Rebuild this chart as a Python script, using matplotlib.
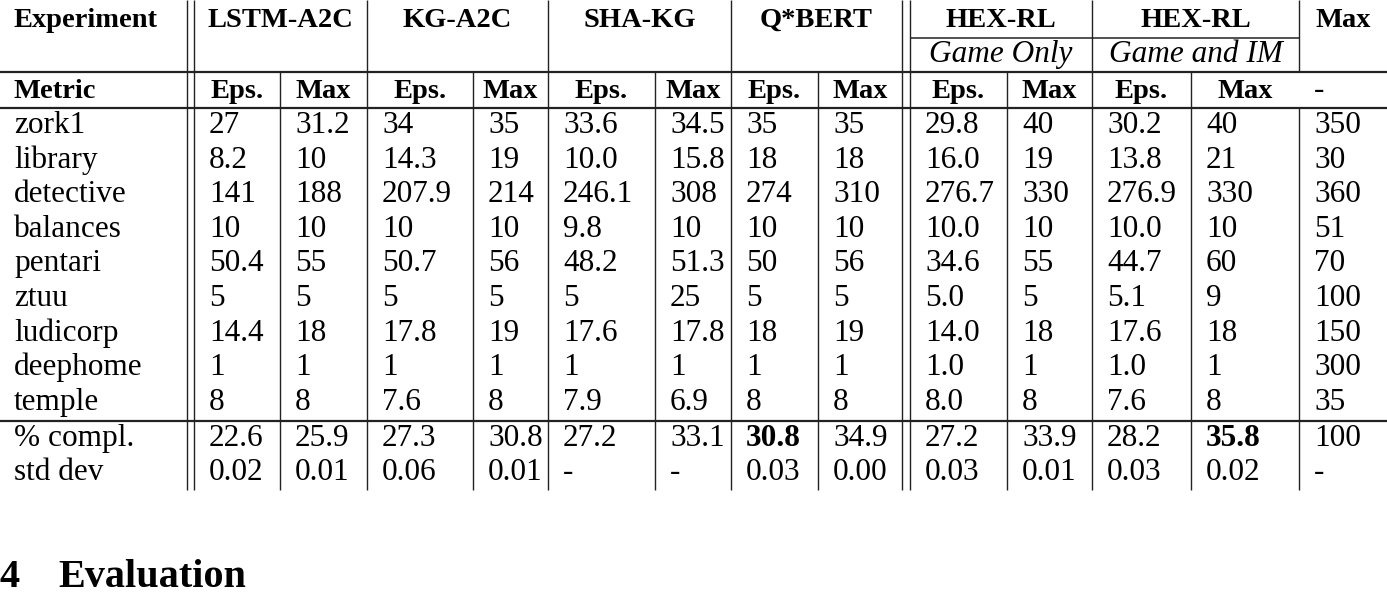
import matplotlib
matplotlib.use("Agg")
import matplotlib.pyplot as plt

plt.rcParams['font.family'] = ['Liberation Serif', 'DejaVu Serif']

# table content
games = ["zork1", "library", "detective", "balances", "pentari", "ztuu",
         "ludicorp", "deephome", "temple"]
groups = ["LSTM-A2C", "KG-A2C", "SHA-KG", "Q*BERT", "HEX-RL", "HEX-RL", "Max"]
subgroups = ["Game Only", "Game and IM"]

lstm_eps = ["27", "8.2", "141", "10", "50.4", "5", "14.4", "1", "8"]
lstm_max = ["31.2", "10", "188", "10", "55", "5", "18", "1", "8"]
kg_eps = ["34", "14.3", "207.9", "10", "50.7", "5", "17.8", "1", "7.6"]
kg_max = ["35", "19", "214", "10", "56", "5", "19", "1", "8"]
sha_eps = ["33.6", "10.0", "246.1", "9.8", "48.2", "5", "17.6", "1", "7.9"]
sha_max = ["34.5", "15.8", "308", "10", "51.3", "25", "17.8", "1", "6.9"]
qbert_eps = ["35", "18", "274", "10", "50", "5", "18", "1", "8"]
qbert_max = ["35", "18", "310", "10", "56", "5", "19", "1", "8"]
hex_game_eps = ["29.8", "16.0", "276.7", "10.0", "34.6", "5.0", "14.0", "1.0", "8.0"]
hex_game_max = ["40", "19", "330", "10", "55", "5", "18", "1", "8"]
hex_im_eps = ["30.2", "13.8", "276.9", "10.0", "44.7", "5.1", "17.6", "1.0", "7.6"]
hex_im_max = ["40", "21", "330", "10", "60", "9", "18", "1", "8"]
max_score = ["350", "30", "360", "51", "70", "100", "150", "300", "35"]

pct_compl = ["22.6", "25.9", "27.3", "30.8", "27.2", "33.1", "30.8", "34.9",
             "27.2", "33.9", "28.2", "35.8", "100"]
std_dev = ["0.02", "0.01", "0.06", "0.01", "-", "-", "0.03", "0.00",
           "0.03", "0.01", "0.03", "0.02", "-"]
best_cols = [6, 11]  # bold entries in the % compl. row

columns = [lstm_eps, lstm_max, kg_eps, kg_max, sha_eps, sha_max,
           qbert_eps, qbert_max, hex_game_eps, hex_game_max,
           hex_im_eps, hex_im_max, max_score]

# layout (pixel coordinates)
W, H = 1387, 595
sub_edges = [(194, 280), (280, 367), (367, 473), (473, 548), (548, 655),
             (655, 731), (731, 818), (818, 902), (910, 1007), (1007, 1092),
             (1092, 1191), (1191, 1299), (1299, 1387)]
group_edges = [(194, 367), (367, 548), (548, 731), (731, 902),
               (910, 1092), (1092, 1299), (1299, 1387)]
pad = 15
fs_reg = 22.5
fs_bold = 20.5
line_col = "#222222"

fig = plt.figure(figsize=(W / 100, H / 100), dpi=100)
ax = fig.add_axes([0, 0, 1, 1])
ax.set_xlim(0, W)
ax.set_ylim(H, 0)
ax.axis("off")

# horizontal rules
for y in (72, 108, 421):
    ax.plot([0, W], [y, y], color=line_col, lw=1.6, solid_capstyle="butt")
ax.plot([910, 1299], [38, 38], color=line_col, lw=1.1, solid_capstyle="butt")

# vertical rules
full = [187, 194, 367, 548, 731, 902, 910, 1092]
lower = [280, 473, 655, 818, 1007, 1191]
for x in full:
    ax.plot([x, x], [0, 490], color=line_col, lw=1.0, solid_capstyle="butt")
for x in lower:
    ax.plot([x, x], [72, 490], color=line_col, lw=1.0, solid_capstyle="butt")
ax.plot([1299, 1299], [0, 72], color=line_col, lw=1.0, solid_capstyle="butt")
ax.plot([1299, 1299], [108, 490], color=line_col, lw=1.0, solid_capstyle="butt")

# header
ax.text(14, 27, "Experiment", fontsize=fs_bold, fontweight="bold", va="baseline")
for name, (a, b) in zip(groups, group_edges):
    ax.text((a + b) / 2, 27, name, fontsize=fs_bold, fontweight="bold",
            ha="center", va="baseline")
for name, (a, b) in zip(subgroups, group_edges[4:6]):
    ax.text((a + b) / 2, 62, name, fontsize=fs_reg, style="italic",
            ha="center", va="baseline")

ax.text(14, 98, "Metric", fontsize=fs_bold, fontweight="bold", va="baseline")
for i, (a, b) in enumerate(sub_edges[:-1]):
    label = "Eps." if i % 2 == 0 else "Max"
    ax.text((a + b) / 2, 98, label, fontsize=fs_bold, fontweight="bold",
            ha="center", va="baseline")
ax.text(sub_edges[-1][0] + pad, 98, "-", fontsize=fs_reg, va="baseline")

# body
row_base = 133
row_step = 34.6
for r, game in enumerate(games):
    y = row_base + r * row_step
    ax.text(14, y, game, fontsize=fs_reg, va="baseline")
    for col, (a, b) in zip(columns, sub_edges):
        ax.text(a + pad, y, col[r], fontsize=fs_reg, va="baseline")

for y, label, vals in ((446, "% compl.", pct_compl), (480, "std dev", std_dev)):
    ax.text(14, y, label, fontsize=fs_reg, va="baseline")
    for i, (v, (a, b)) in enumerate(zip(vals, sub_edges)):
        bold = label == "% compl." and i in best_cols
        ax.text(a + pad, y, v, fontsize=fs_reg,
                fontweight="bold" if bold else "normal", va="baseline")

# section heading below the table
ax.text(0, 587, "4", fontsize=29, fontweight="bold", va="baseline")
ax.text(58, 587, "Evaluation", fontsize=29, fontweight="bold", va="baseline")

fig.savefig("out.png", dpi=100)
